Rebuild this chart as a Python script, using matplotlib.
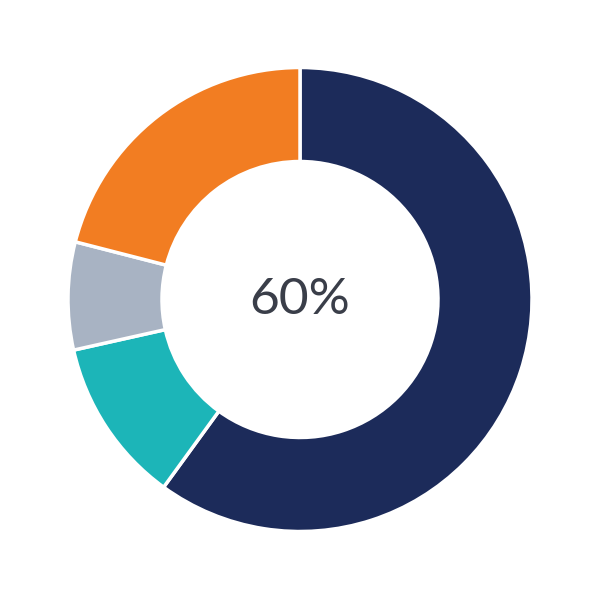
import matplotlib.pyplot as plt

labels = ['Navy', 'Teal', 'Gray', 'Orange']
values = [60, 11.5, 7.5, 21]
colors = ['#1c2b5a', '#1cb5b8', '#a8b3c3', '#f27d22']
center_text = '60%'

fig = plt.figure(figsize=(6, 5.99), dpi=100)
ax = fig.add_axes([0, 0, 1, 1])

ax.pie(values, colors=colors, startangle=90, counterclock=False,
       radius=232, center=(0, 0),
       wedgeprops=dict(width=94, edgecolor='white', linewidth=2.5))

ax.text(0, 0, center_text, ha='center', va='center', fontsize=37,
        color='#3a3e49', family=['Lato', 'DejaVu Sans'])

ax.set_xlim(-300, 300)
ax.set_ylim(-299.5, 299.5)
ax.set_aspect('equal')
ax.axis('off')

fig.savefig('out.png', dpi=100, facecolor='white')
